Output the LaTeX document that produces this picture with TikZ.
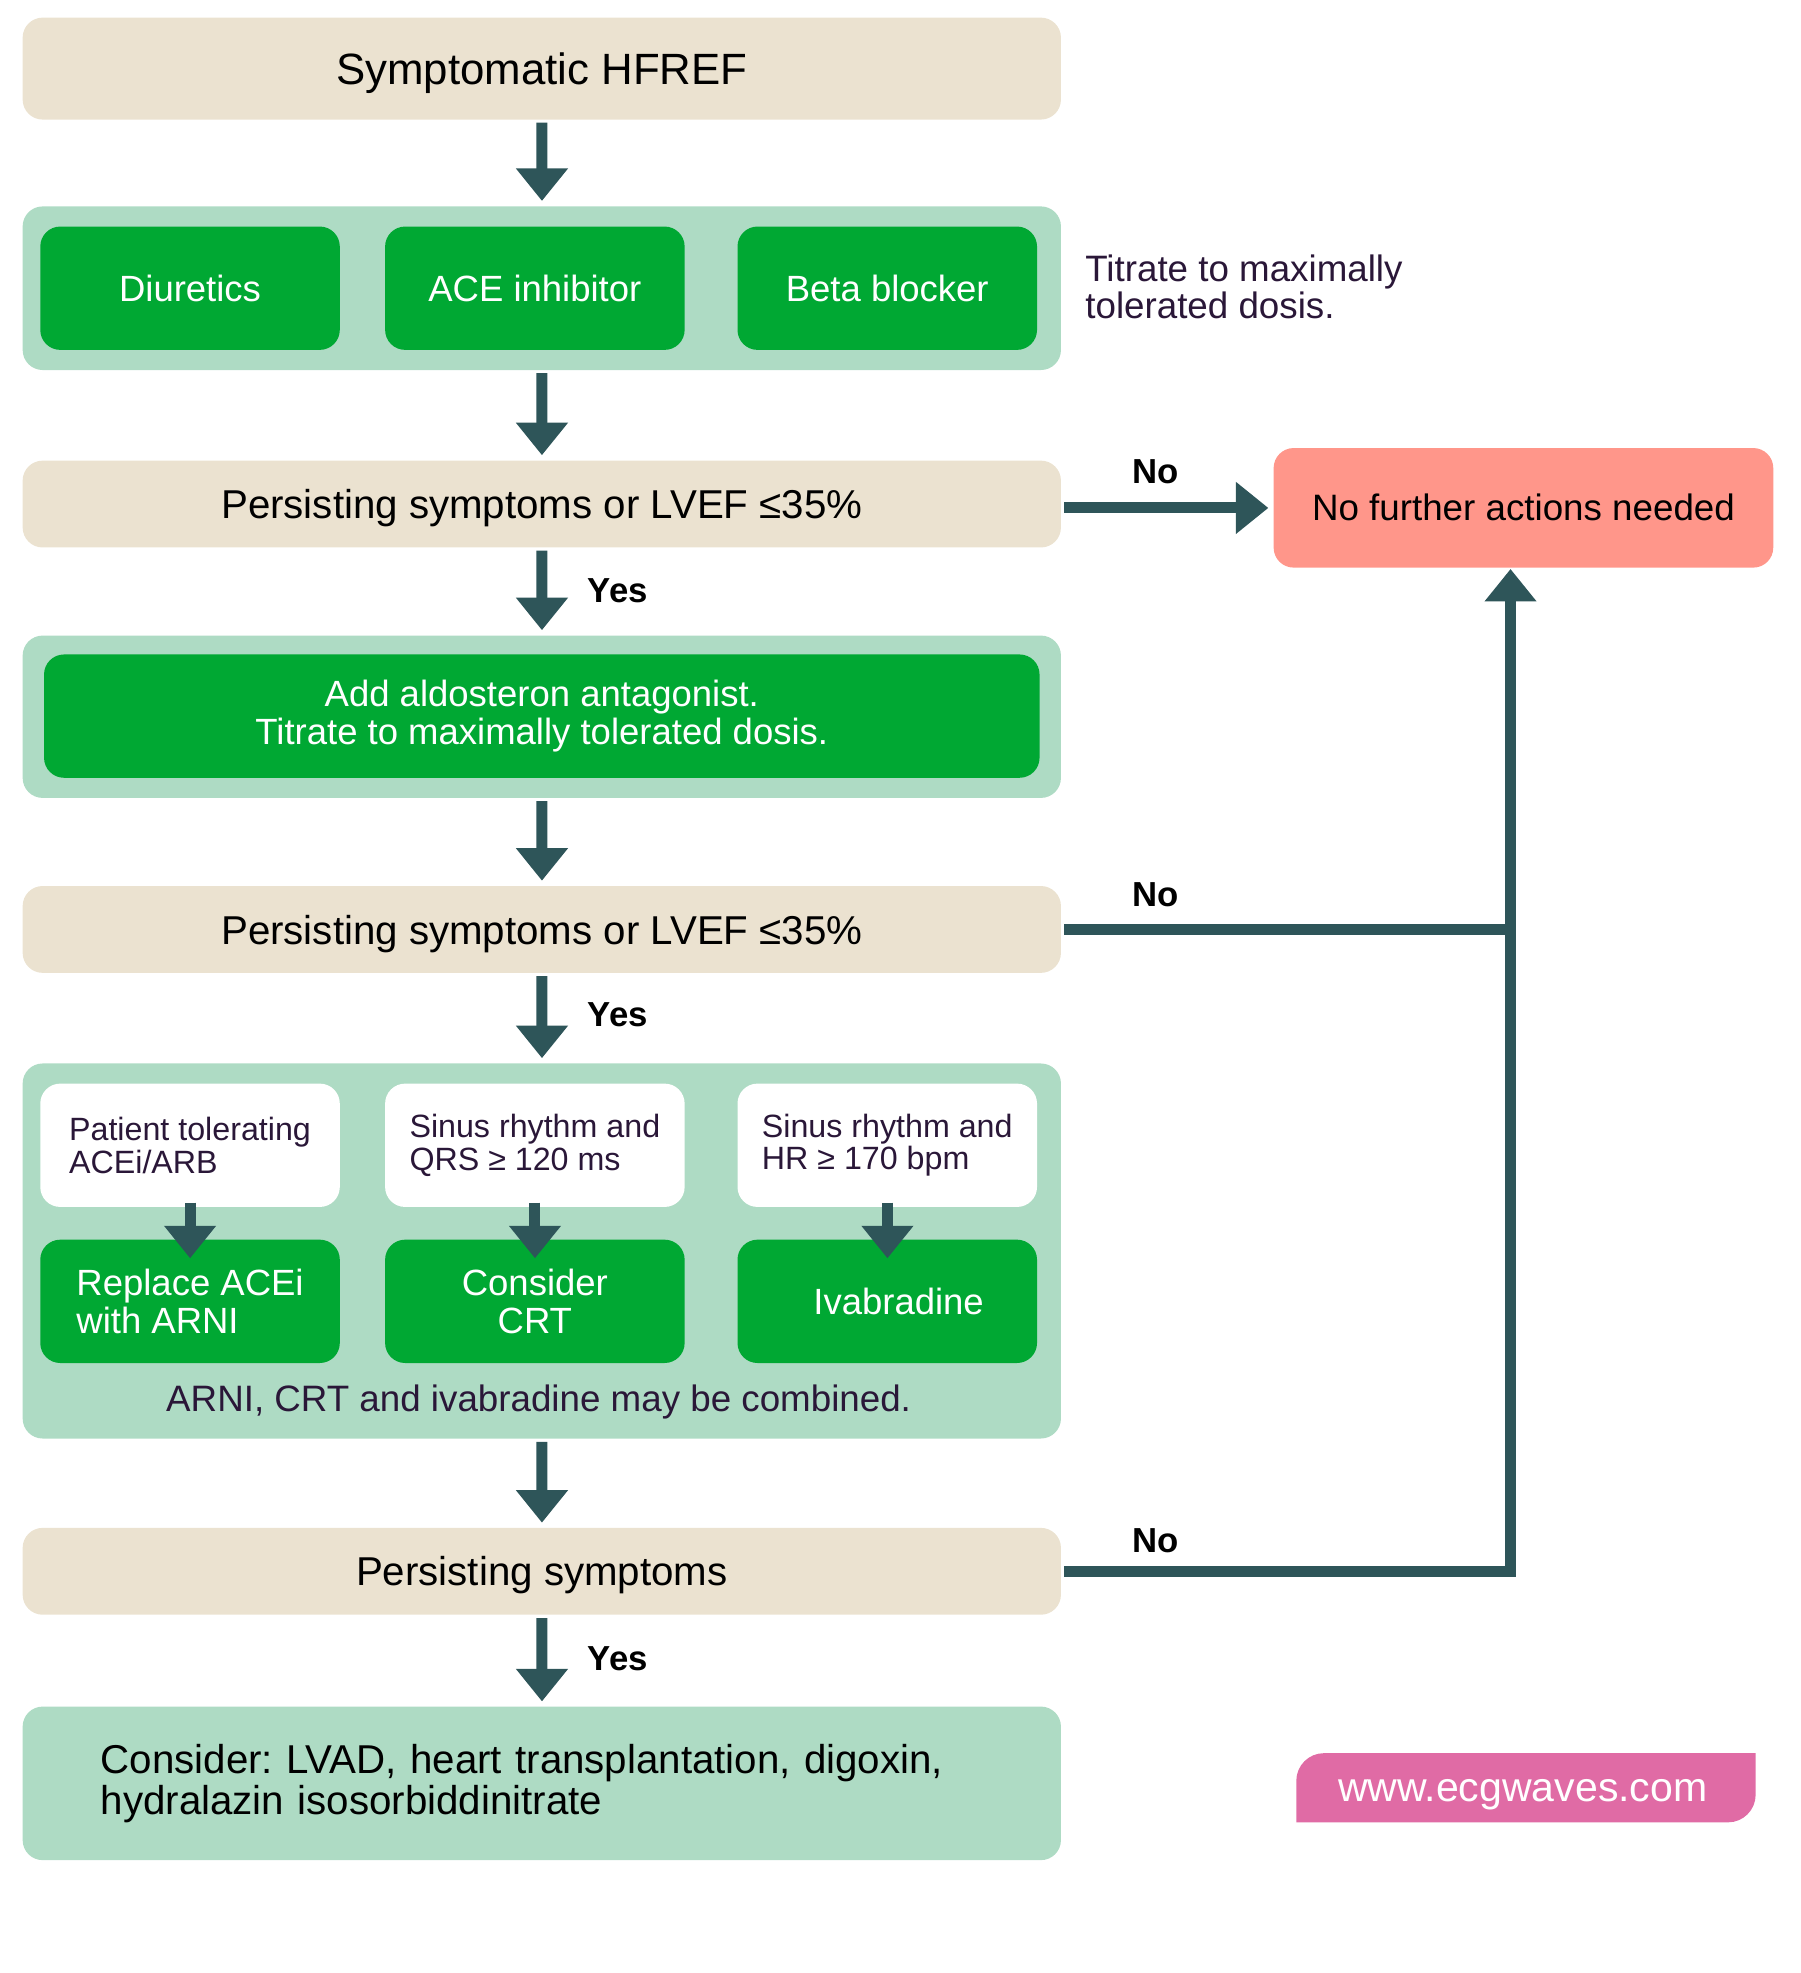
\documentclass[tikz,border=0pt]{standalone}
\usepackage{fontspec}
\setmainfont{Liberation Sans}
\usetikzlibrary{arrows.meta}
\definecolor{beige}{HTML}{EBE2D0}
\definecolor{lgreen}{HTML}{AEDBC4}
\definecolor{dgreen}{HTML}{00A833}
\definecolor{arrowc}{HTML}{2E5559}
\definecolor{redbox}{HTML}{FF968A}
\definecolor{pinkwm}{HTML}{E06BA5}
\definecolor{purp}{HTML}{2A1738}
\frenchspacing
\begin{document}
\begin{tikzpicture}[x=0.5pt,y=-0.5pt, scale=1.0068, transform shape,
  box/.style={rounded corners=8pt, inner sep=0pt, align=center},
  wide/.style={minimum width=412.5pt},
  small/.style={minimum width=119pt, minimum height=49pt},
  beigebox/.style={box, wide, minimum height=34.5pt, fill=beige, text=black, text depth=0pt, font=\fontsize{16}{19}\selectfont},
  groupbox/.style={box, wide, fill=lgreen},
  greenbox/.style={box, small, fill=dgreen, text=white, font=\fontsize{14.5}{15}\selectfont},
  whitebox/.style={box, small, fill=white, text=purp, font=\fontsize{12.8}{13}\selectfont},
  arr/.style={line width=4.4pt, draw=arrowc, -{Triangle[width=20pt,length=13pt]}, shorten >=2pt, shorten <=1pt},
  conn/.style={line width=4.4pt, draw=arrowc, shorten <=1pt},
  lab/.style={font=\bfseries\fontsize{13.8}{16}\selectfont, text=black}
]
\useasboundingbox (0,0) rectangle (1430.3,1567.7);

% step 1
\node[beigebox, minimum height=40.5pt, font=\fontsize{17.4}{20}\selectfont] (s1) at (430.5,54.5) {Symptomatic HFREF};

% group 1
\node[groupbox, minimum height=65pt] (g1) at (430.5,229) {};
\node[greenbox] (diu) at (151,229) {Diuretics};
\node[greenbox] (ace) at (425,229) {ACE inhibitor};
\node[greenbox] (bb) at (705,229) {Beta blocker};
\node[anchor=west, align=left, text=purp, inner sep=0pt, font=\fontsize{14.6}{15}\selectfont] (tit) at (862,228) {Titrate to maximally\\tolerated dosis.};

% question 1
\node[beigebox] (q1) at (430.5,400.5) {Persisting symptoms or LVEF ≤35\%};
\node[box, fill=redbox, text=black, minimum width=198.5pt, minimum height=47.5pt, font=\fontsize{14.6}{16}\selectfont] (nfa) at (1210.5,403.5) {No further actions needed};

% group 2
\node[groupbox, minimum height=64.5pt] (g2) at (430.5,569.5) {};
\node[greenbox, minimum width=395.5pt] (aldo) at (430.5,569) {Add aldosteron antagonist.\\Titrate to maximally tolerated dosis.};

% question 2
\node[beigebox] (q2) at (430.5,738.5) {Persisting symptoms or LVEF ≤35\%};

% group 3
\node[groupbox, minimum height=149pt] (g3) at (430.5,994) {};
\node[whitebox, align=left] (w1) at (151,910) {Patient tolerating\\ACEi/ARB};
\node[whitebox, align=left] (w2) at (425,910) {Sinus rhythm and\\QRS ≥ 120 ms};
\node[whitebox, align=left] (w3) at (705,910) {Sinus rhythm and\\HR ≥ 170 bpm};
\node[greenbox, align=left] (r1) at (151,1034) {Replace ACEi\\with ARNI};
\node[greenbox] (r2) at (425,1034) {Consider\\CRT};
\node[greenbox] (r3) at (705,1034) {\hspace*{9pt}Ivabradine};
\node[text=purp, inner sep=0pt, font=\fontsize{14.6}{16}\selectfont] (comb) at (428,1114) {ARNI, CRT and ivabradine may be combined.};

% question 3
\node[beigebox] (q3) at (430.5,1248.5) {Persisting symptoms};

% final
\node[box, wide, minimum height=61pt, fill=lgreen, text=black, align=left, text width=350.5pt, font=\fontsize{16}{16.5}\selectfont] (fin) at (430.5,1417) {Consider: LVAD, heart transplantation, digoxin,\\hydralazin isosorbiddinitrate};

% watermark
\fill[pinkwm] (1030,1448) -- (1030,1415) arc[start angle=180, end angle=90, radius=11pt] -- (1395,1393) -- (1395,1426) arc[start angle=0, end angle=-90, radius=11pt] -- cycle;
\node[text=white, inner sep=0pt, text depth=0pt, font=\fontsize{16.3}{18}\selectfont] (wm) at (1210,1423) {www.ecgwaves.com};

% connectors
\coordinate (bus) at (1200,451);
\draw[arr] (s1) -- (g1);
\draw[arr] (g1) -- (q1);
\draw[arr] (q1) -- (g2);
\draw[arr] (g2) -- (q2);
\draw[arr] (q2) -- (g3);
\draw[arr] (g3) -- (q3);
\draw[arr] (q3) -- (fin);
\draw[arr] (q1.east |- nfa.west) -- (nfa.west);
\draw[conn] (q2.east) -- (q2.east -| bus);
\draw[arr, shorten >=0.5pt] (q3.east) -- (q3.east -| bus) -- (bus);

\draw[arr, shorten <=0pt, shorten >=0pt] ([yshift=2pt]w1.south) -- ([yshift=-7.5pt]r1.north);
\draw[arr, shorten <=0pt, shorten >=0pt] ([yshift=2pt]w2.south) -- ([yshift=-7.5pt]r2.north);
\draw[arr, shorten <=0pt, shorten >=0pt] ([yshift=2pt]w3.south) -- ([yshift=-7.5pt]r3.north);

% labels
\node[lab] (no1) at (918,375) {No};
\node[lab] (no2) at (918,711) {No};
\node[lab] (no3) at (918,1224) {No};
\node[lab, anchor=west] (y1) at (460,469) {Yes};
\node[lab, anchor=west] (y2) at (460,806) {Yes};
\node[lab, anchor=west] (y3) at (460,1318) {Yes};
\end{tikzpicture}
\end{document}
